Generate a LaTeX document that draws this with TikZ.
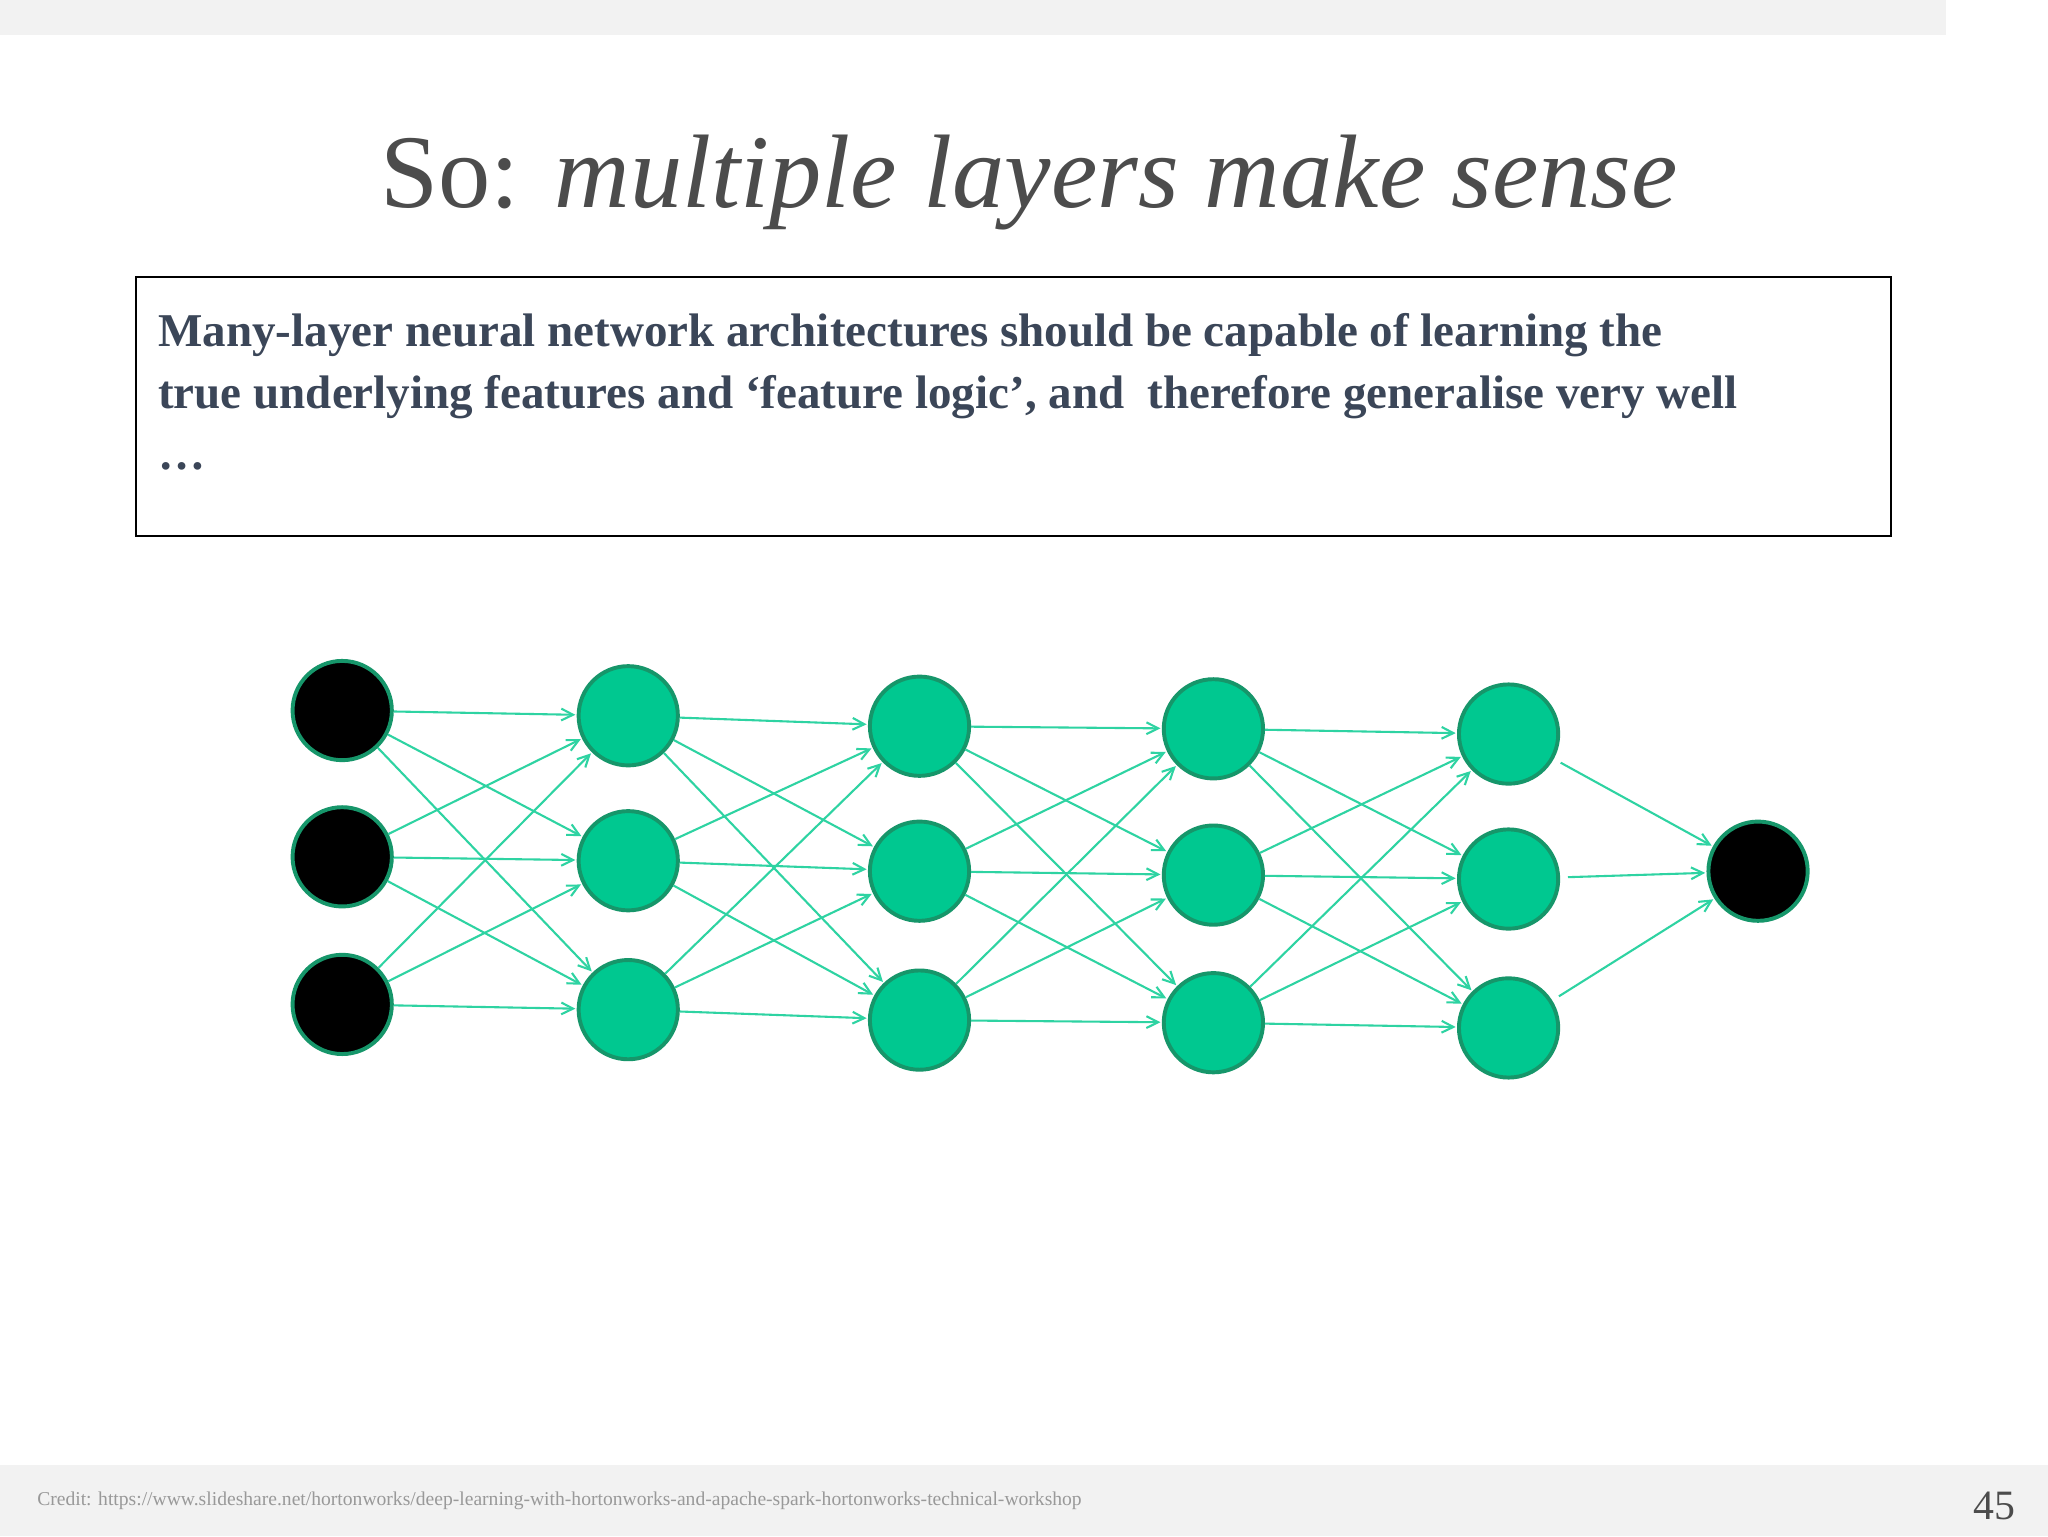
\documentclass[tikz,border=0pt]{standalone}
\usepackage{fontspec}
\setmainfont{Liberation Serif}
\usetikzlibrary{arrows.meta}
\definecolor{nfill}{HTML}{00C890}
\definecolor{nedge}{HTML}{16966A}
\definecolor{arr}{HTML}{2ED3A2}
\definecolor{txt}{HTML}{3B4658}
\tikzset{
 neuron/.style={circle,draw=nedge,line width=3pt,fill=nfill,minimum size=76pt,inner sep=0pt},
 inp/.style={neuron,fill=black},
 conn/.style={draw=arr,line width=1.6pt,-{Straight Barb[length=9pt,width=9pt]},shorten >=1pt}
}
\begin{document}
\begin{tikzpicture}[x=1pt,y=-1pt]
\useasboundingbox (0,0) rectangle (1568,1176);
\fill[white] (0,0) rectangle (1568,1176);
\fill[gray!10] (0,0) rectangle (1490,27);
\fill[gray!10] (0,1122) rectangle (1568,1176);
\node[text=black!70,font=\fontsize{80}{90}\selectfont] (title) at (788,140) {So: \textit{multiple layers make sense}};
\draw[line width=1.5pt] (104,212) rectangle (1448,410);
\node[anchor=north west,text=txt,align=left,inner sep=0pt,font=\fontsize{36}{47}\selectfont\bfseries] (body) at (121,240) {Many-layer neural network architectures should be capable of learning the\\true underlying features and ‘feature logic’, and\ \ therefore generalise very well\\\ldots};
% nodes
\foreach \y [count=\i] in {544,656,769} \node[inp] (a\i) at (262,\y) {};
\foreach \y [count=\i] in {548,659,773} \node[neuron] (b\i) at (481,\y) {};
\foreach \y [count=\i] in {556,667,781} \node[neuron] (c\i) at (704,\y) {};
\foreach \y [count=\i] in {558,670,783} \node[neuron] (d\i) at (929,\y) {};
\foreach \y [count=\i] in {562,673,787} \node[neuron] (e\i) at (1155,\y) {};
\node[inp] (o) at (1346,667) {};
\foreach \s/\t in {a/b,b/c,c/d,d/e}
 \foreach \i in {1,2,3}
  \foreach \j in {1,2,3}
   \draw[conn] (\s\i) -- (\t\j);
\foreach \i in {1,2,3} \draw[conn,shorten <=6pt] (e\i) -- (o);
\node[anchor=west,text=gray!80,font=\fontsize{15}{18}\selectfont] (credit) at (25,1149) {Credit: https://www.slideshare.net/hortonworks/deep-learning-with-hortonworks-and-apache-spark-hortonworks-technical-workshop};
\node[text=black!70,font=\fontsize{32}{36}\selectfont] (pg) at (1527,1153) {45};
\end{tikzpicture}
\end{document}
